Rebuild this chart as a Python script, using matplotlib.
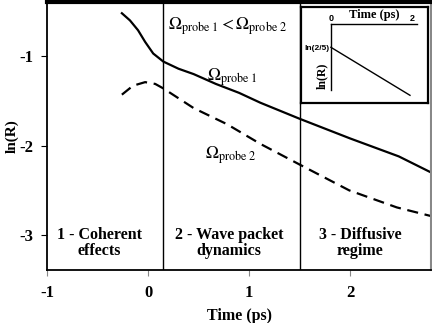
import numpy as np
import matplotlib
matplotlib.use("Agg")
import matplotlib.pyplot as plt

plt.rcParams['font.family'] = ['Liberation Serif', 'DejaVu Serif']
plt.rcParams['mathtext.fontset'] = 'stix'

# probe 1 (solid) and probe 2 (dashed)
t_probe1 = [-0.26, -0.18, -0.10, -0.03, 0.05, 0.15, 0.30, 0.45, 0.67, 0.90, 1.11, 1.50, 2.00, 2.48, 2.80]
lnR_probe1 = [-0.52, -0.60, -0.71, -0.84, -0.97, -1.06, -1.14, -1.20, -1.31, -1.41, -1.52, -1.70, -1.92, -2.12, -2.30]

t_probe2 = [-0.26, -0.15, -0.03, 0.07, 0.15, 0.45, 0.78, 1.11, 1.48, 1.99, 2.46, 2.81]
lnR_probe2 = [-1.43, -1.33, -1.29, -1.31, -1.36, -1.58, -1.76, -1.98, -2.20, -2.50, -2.69, -2.79]

region_bounds = [0.15, 1.5]
region_labels = ["1 - Coherent\neffects", "2 - Wave packet\ndynamics", "3 - Diffusive\nregime"]
region_x = [-0.48, 0.80, 2.10]

xticks = [-1, 0, 1, 2]
yticks = [-1, -2, -3]

# inset sketch
inset_t = [0, 1.95]
inset_lnR = [np.log(2 / 5), -1.99]

fig = plt.figure(figsize=(4.32, 3.23), dpi=100)
ax = fig.add_axes([0.109, 0.164, 0.889, 0.831])

ax.plot(t_probe1, lnR_probe1, color='black', lw=1.6)
ax.plot(t_probe2, lnR_probe2, color='black', lw=1.6, dashes=(5, 3))

for b in region_bounds:
    ax.axvline(b, color='black', lw=1.0)

for x, lab in zip(region_x, region_labels):
    ax.text(x, -3.09, lab, ha='center', va='center', fontsize=11.5,
            fontweight='bold', linespacing=1.0)

ax.text(0.20, -0.66, r'$\Omega_{\mathrm{probe\ 1}} < \Omega_{\mathrm{probe\ 2}}$',
        fontsize=12.5, va='center', ha='left')
ax.text(0.58, -1.23, r'$\Omega_{\mathrm{probe\ 1}}$', fontsize=12.5, va='center', ha='left')
ax.text(0.56, -2.11, r'$\Omega_{\mathrm{probe\ 2}}$', fontsize=12.5, va='center', ha='left')

ax.set_xlim(-1, 2.8)
ax.set_ylim(-3.39, -0.39)
ax.set_xticks(xticks)
ax.set_yticks(yticks)
ax.set_xticklabels([str(v) for v in xticks], fontweight='bold', fontsize=12)
ax.set_yticklabels([str(v) for v in yticks], fontweight='bold', fontsize=12)
ax.tick_params(axis='both', direction='out', length=4, width=0.8)
ax.tick_params(axis='x', color='#888888', pad=7)
ax.tick_params(axis='y', pad=6)
ax.set_xlabel('Time (ps)', fontweight='bold', fontsize=11.5, labelpad=5)
ax.set_ylabel('ln(R)', fontweight='bold', fontsize=11)
ax.yaxis.set_label_coords(-0.075, 0.5)

ax.spines['top'].set_linewidth(3)
ax.spines['left'].set_linewidth(1.3)
ax.spines['bottom'].set_linewidth(1.3)
ax.spines['right'].set_color('#888888')
ax.spines['right'].set_linewidth(1.5)

# inset frame
box = fig.add_axes([0.697, 0.681, 0.294, 0.297])
box.set_xticks([])
box.set_yticks([])
for s in box.spines.values():
    s.set_linewidth(1.6)

ins = fig.add_axes([0.766, 0.721, 0.199, 0.204])
ins.patch.set_alpha(0)
ins.plot(inset_t, inset_lnR, color='black', lw=1.0, clip_on=False)
ins.set_xlim(0, 2.12)
ins.set_ylim(-1.874, -0.4)
ins.spines['right'].set_visible(False)
ins.spines['bottom'].set_visible(False)
ins.spines['top'].set_linewidth(1.0)
ins.spines['left'].set_linewidth(1.0)
ins.xaxis.tick_top()
ins.set_xticks([0, 2])
ins.set_xticklabels(['0', '2'], fontsize=6.5, fontweight='bold', family='Liberation Sans')
ins.set_yticks([np.log(2 / 5)])
ins.set_yticklabels(['ln(2/5)'], fontsize=6, fontweight='bold', family='Liberation Sans')
ins.tick_params(length=0, pad=1)
ins.text(0.5, 1.05, 'Time (ps)', transform=ins.transAxes, ha='center', va='bottom',
         fontsize=9, fontweight='bold')
fig.text(322 / 432, 1 - 76 / 323, 'ln(R)', rotation=90, ha='center', va='center',
         fontsize=8.5, fontweight='bold')

fig.savefig('out.png', dpi=100)
